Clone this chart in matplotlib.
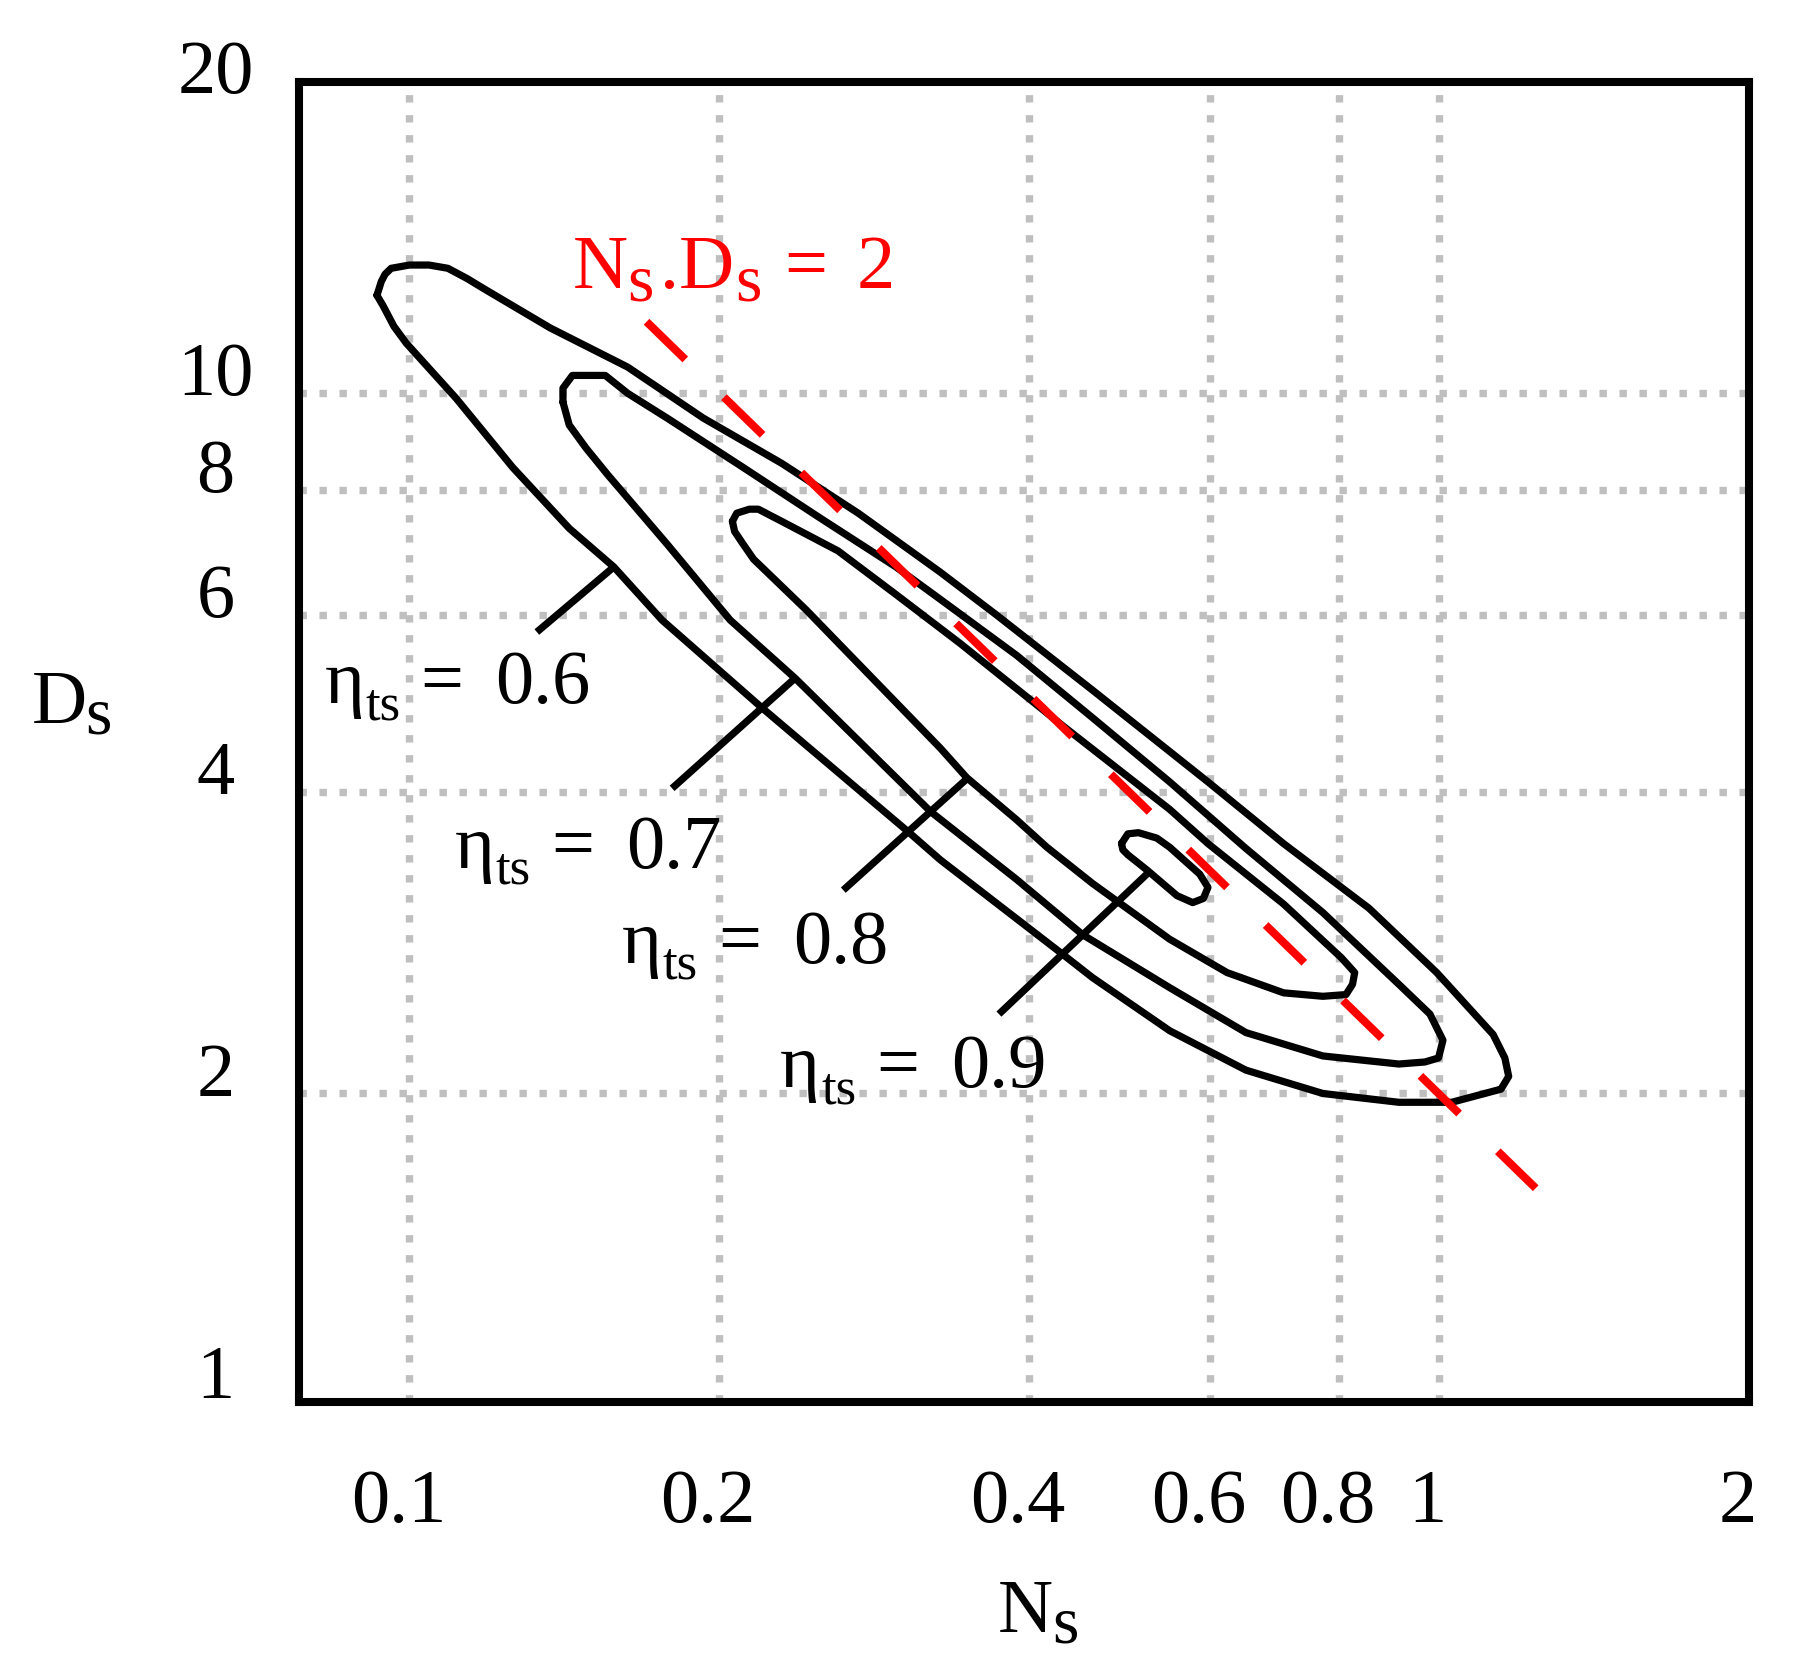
"""
Contours of total-to-static efficiency on the Ns-Ds (Cordier-type) diagram,
with the reference line Ns.Ds = 2.
"""

import numpy as np
import matplotlib
matplotlib.use("Agg")
import matplotlib.pyplot as plt
from matplotlib.ticker import NullLocator
from matplotlib.transforms import ScaledTranslation

plt.rcParams["font.family"] = ["Liberation Serif", "DejaVu Serif"]
plt.rcParams["lines.scale_dashes"] = False

# ---- data ----
eta_levels = ["0.6", "0.7", "0.8", "0.9"]

ns_06 = [0.093, 0.0939, 0.0947, 0.096, 0.1, 0.1045, 0.109, 0.1138, 0.118, 0.137,
         0.163, 0.193, 0.23, 0.273, 0.328, 0.372, 0.461, 0.597, 0.707, 0.856,
         0.996, 1.13, 1.16, 1.17, 1.15, 1.03, 0.915, 0.772, 0.65, 0.548,
         0.461, 0.43, 0.328, 0.306, 0.22, 0.176, 0.158, 0.143, 0.126, 0.111,
         0.0993, 0.0966, 0.0943]
ds_06 = [12.5, 12.9, 13.12, 13.3, 13.4, 13.4, 13.3, 12.99, 12.7, 11.6,
         10.6, 9.43, 8.5, 7.58, 6.62, 6.0, 5.05, 4.09, 3.55, 3.06,
         2.64, 2.29, 2.17, 2.08, 2.02, 1.96, 1.96, 2.0, 2.11, 2.31,
         2.61, 2.76, 3.42, 3.64, 4.85, 5.93, 6.7, 7.32, 8.42, 9.87,
         11.2, 11.64, 12.2]

ns_07 = [0.141, 0.141, 0.144, 0.148, 0.155, 0.163, 0.178, 0.211, 0.25, 0.297,
         0.328, 0.389, 0.461, 0.548, 0.65, 0.772, 0.915, 0.981, 1.01, 1.0,
         0.97, 0.915, 0.772, 0.65, 0.548, 0.451, 0.389, 0.321, 0.237, 0.205,
         0.178, 0.156, 0.1485, 0.143]
ds_07 = [9.78, 10.1, 10.4, 10.4, 10.4, 9.98, 9.43, 8.42, 7.51, 6.7,
         6.22, 5.47, 4.74, 4.09, 3.51, 3.03, 2.57, 2.4, 2.26, 2.17,
         2.15, 2.14, 2.18, 2.3, 2.55, 2.88, 3.27, 3.82, 5.19, 5.93,
         7.06, 8.27, 8.80, 9.28]

ns_08 = [0.206, 0.208, 0.214, 0.2183, 0.23, 0.261, 0.297, 0.343, 0.434, 0.548,
         0.597, 0.707, 0.805, 0.829, 0.825, 0.813, 0.772, 0.707, 0.623, 0.548,
         0.461, 0.4164, 0.389, 0.348, 0.328, 0.243, 0.216, 0.211, 0.207]
ds_08 = [7.44, 7.58, 7.65, 7.65, 7.44, 6.95, 6.29, 5.62, 4.63, 3.84,
         3.55, 3.09, 2.73, 2.64, 2.57, 2.51, 2.5, 2.52, 2.64, 2.85,
         3.24, 3.52, 3.75, 4.13, 4.42, 6.07, 6.82, 7.06, 7.27]

ns_09 = [0.492, 0.499, 0.511, 0.5324, 0.548, 0.586, 0.597, 0.591, 0.577, 0.557,
         0.521, 0.499, 0.4935]
ds_09 = [3.55, 3.63, 3.64, 3.595, 3.52, 3.31, 3.21, 3.13, 3.1, 3.15,
         3.34, 3.46, 3.50]

# leader lines (contour point -> label end)
lead_ns = [[0.158, 0.133], [0.237, 0.18], [0.35, 0.264], [0.524, 0.374]]
lead_ds = [[6.7, 5.77], [5.19, 4.03], [4.14, 3.19], [3.33, 2.4]]

# label anchors (right end, baseline)
label_ns = [0.15, 0.201, 0.292, 0.416]
label_ds = [4.9, 3.36, 2.7, 2.03]

# reference line Ns.Ds = const
nsds_const = 2.0
ref_ns = np.array([0.17, 1.243])

xticks = [0.1, 0.2, 0.4, 0.6, 0.8, 1, 2]
xtick_labels = ["0.1", "0.2", "0.4", "0.6", "0.8", "1", "2"]
yticks = [1, 2, 4, 6, 8, 10, 20]
ytick_labels = ["1", "2", "4", "6", "8", "10", "20"]
xgrid = [0.1, 0.2, 0.4, 0.6, 0.8, 1]
ygrid = [2, 4, 6, 8, 10]

FS = 55     # main text size (pt)
SUB = 49    # subscript "s" of N_s, D_s
SUB_TS = 38  # subscript "ts" of eta_ts
RED = "#FF0000"
GRID = dict(color="#BFBFBF", lw=5.3, dashes=(5.3, 9.1), dash_capstyle="butt", zorder=1)


def text_runs(ax, x, y, runs, transform, ha="left", color="black"):
    """Write a label as runs (text, size, drop_px, gap_px) set side by side on one baseline."""
    fig = ax.figure
    renderer = fig.canvas.get_renderer()
    placed = []
    pos = 0.0
    for s, size, drop, gap in runs:
        pos += gap
        t = ax.text(x, y, s, fontsize=size, color=color, ha="left", va="baseline",
                    transform=transform, clip_on=False, zorder=6)
        placed.append((t, pos, drop))
        pos += t.get_window_extent(renderer).width
    start = -pos if ha == "right" else 0.0
    for t, p, drop in placed:
        off = ScaledTranslation((start + p) / fig.dpi, -drop / fig.dpi, fig.dpi_scale_trans)
        t.set_transform(transform + off)


fig = plt.figure(figsize=(18.04, 16.70), dpi=100)
ax = fig.add_axes([0.1657, 0.1605, 0.8038, 0.7904])
ax.set_xscale("log")
ax.set_yscale("log")
ax.set_xlim(0.0781, 2.003)
ax.set_ylim(0.985, 20.4)

for g in xgrid:
    ax.axvline(g, **GRID)
for g in ygrid:
    ax.axhline(g, **GRID)

# ---- efficiency contours ----
for xs, ys in [(ns_06, ds_06), (ns_07, ds_07), (ns_08, ds_08), (ns_09, ds_09)]:
    ax.plot(xs + xs[:1], ys + ys[:1], color="black", lw=5.2,
            solid_joinstyle="round", solid_capstyle="round", zorder=3)

for lx, ly in zip(lead_ns, lead_ds):
    ax.plot(lx, ly, color="black", lw=5.2, solid_capstyle="butt", zorder=3)

for lev, x, y in zip(eta_levels, label_ns, label_ds):
    text_runs(ax, x, y, [("η", FS, 0, 0), ("ts", SUB_TS, 16, 1),
                         ("=", FS, 0, 20), (lev, FS, 0, 32)],
              ax.transData, ha="right")

# ---- reference line ----
ax.plot(ref_ns, nsds_const / ref_ns, color=RED, lw=5.8, dashes=(38.9, 38.9),
        dash_capstyle="butt", zorder=4)
text_runs(ax, 0.144, 12.7, [("N", FS, 0, 0), ("s", SUB, 12, 0), (".D", FS, 0, 6),
                            ("s", SUB, 12, 1), ("=", FS, 0, 23), ("2", FS, 0, 29)],
          ax.transData, color=RED)

# ---- axes ----
ax.xaxis.set_minor_locator(NullLocator())
ax.yaxis.set_minor_locator(NullLocator())
ax.set_xticks(xticks, xtick_labels)
ax.set_yticks(yticks, ytick_labels)
ax.tick_params(axis="both", which="both", length=0, labelsize=FS)
ax.tick_params(axis="x", pad=48)
ax.tick_params(axis="y", pad=60)
xshift = ScaledTranslation(-0.11, 0, fig.dpi_scale_trans)
for lab in ax.get_xticklabels():
    lab.set_transform(lab.get_transform() + xshift)
yshift = ScaledTranslation(0, 0.24, fig.dpi_scale_trans)
for lab in ax.get_yticklabels():
    lab.set_horizontalalignment("center")
    lab.set_transform(lab.get_transform() + yshift)

for s in ax.spines.values():
    s.set_linewidth(5.8)
    s.set_capstyle("projecting")
    s.set_zorder(5)

text_runs(ax, 0.482, -0.1742, [("N", FS, 0, 0), ("s", SUB, 11, -1)], ax.transAxes)
text_runs(ax, -0.1841, 0.5144, [("D", FS, 0, 0), ("s", SUB, 11, -2)], ax.transAxes)

fig.savefig("out.png", dpi=100)
